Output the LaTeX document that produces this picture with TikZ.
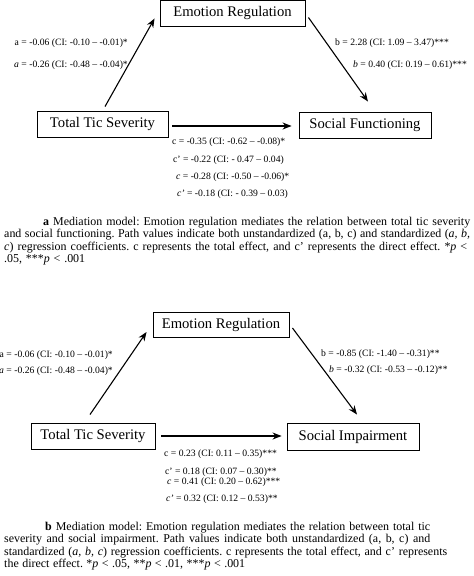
\documentclass[tikz,border=0pt]{standalone}
\usepackage{fontspec}
\setmainfont{Liberation Serif}
\usetikzlibrary{arrows.meta}
\begin{document}
\frenchspacing
\begin{tikzpicture}[x=1bp,y=-1bp,
 box/.style={draw,line width=0.9bp,font=\fontsize{14.7}{17}\selectfont,inner sep=0,minimum height=26bp},
 arr/.style={line width=1.1bp,-{Stealth[length=9bp,width=7bp]}},
 lab/.style={font=\fontsize{9.7}{11}\selectfont,inner sep=0,anchor=base west},
 labr/.style={lab,anchor=base east},
 captxt/.style={font=\fontsize{12}{13}\selectfont,inner sep=0,anchor=base west}]
\fill[white] (0,0) rectangle (474,576);
\useasboundingbox (0,0) rectangle (474,576);
% ---------- panel a ----------
\node[box,minimum width=145bp] (erA) at (232.5,13.5) {Emotion Regulation};
\node[box,minimum width=131bp] (ttsA) at (102.5,124) {Total Tic Severity};
\node[box,minimum width=132bp] (sfA) at (365,125) {Social Functioning};
\draw[arr] ([shift={(2.5,-4)}]ttsA.north) -- ([shift={(-5,5)}]erA.west);
\draw[arr] ([shift={(3,4)}]erA.east) -- ([shift={(3,-10)}]sfA.north);
\draw[arr] ([shift={(4,2)}]ttsA.east) -- ([shift={(-7,1)}]sfA.west);
\node[labr] (aA1) at (128,46) {a = -0.06 (CI: -0.10 – -0.01)*};
\node[labr] (aA2) at (128,68) {\textit{a} = -0.26 (CI: -0.48 – -0.04)*};
\node[lab] (bA1) at (335,46) {b = 2.28 (CI: 1.09 – 3.47)***};
\node[lab] (bA2) at (353,68) {\textit{b} = 0.40 (CI: 0.19 – 0.61)***};
\node[lab] (cA1) at (172,145) {c = -0.35 (CI: -0.62 – -0.08)*};
\node[lab] (cA2) at (173,163) {c’ = -0.22 (CI: - 0.47 – 0.04)};
\node[lab] (cA3) at (176,179) {\textit{c} = -0.28 (CI: -0.50 – -0.06)*};
\node[lab] (cA4) at (177,196) {\textit{c’} = -0.18 (CI: - 0.39 – 0.03)};
\node[captxt] (capA1) at (43,225) {\makebox[427bp][s]{\textbf{a}\ Mediation model: Emotion regulation mediates the relation between total tic severity}};
\node[captxt] (capA2) at (4,237.5) {\makebox[466bp][s]{and social functioning. Path values indicate both unstandardized (a, b, c) and standardized (\textit{a, b,}}};
\node[captxt] (capA3) at (4,250) {\makebox[463bp][s]{\textit{c}) regression coefficients. c represents the total effect, and c’ represents the direct effect. *\textit{p} <}};
\node[captxt] (capA4) at (4,262.5) {\makebox[81bp][s]{.05, ***\textit{p} < .001}};
% ---------- panel b ----------
\node[box,minimum width=136bp,minimum height=25bp] (erB) at (221,324.5) {Emotion Regulation};
\node[box,minimum width=124bp] (ttsB) at (93,436) {Total Tic Severity};
\node[box,minimum width=132bp,minimum height=27bp] (siB) at (353,436.5) {Social Impairment};
\draw[arr] ([shift={(-3,-8)}]ttsB.north) -- ([shift={(-6,7.5)}]erB.west);
\draw[arr] ([shift={(3,3.5)}]erB.east) -- ([shift={(4,-8)}]siB.north);
\draw[arr] ([shift={(6,0)}]ttsB.east) -- ([shift={(-5,-0.5)}]siB.west);
\node[labr] (aB1) at (113,357) {a = -0.06 (CI: -0.10 – -0.01)*};
\node[labr] (aB2) at (113,373) {\textit{a} = -0.26 (CI: -0.48 – -0.04)*};
\node[lab] (bB1) at (321,356) {b = -0.85 (CI: -1.40 – -0.31)**};
\node[lab] (bB2) at (329,372) {\textit{b} = -0.32 (CI: -0.53 – -0.12)**};
\node[lab] (cB1) at (164,456) {c = 0.23 (CI: 0.11 – 0.35)***};
\node[lab] (cB2) at (165,474) {c’ = 0.18 (CI: 0.07 – 0.30)**};
\node[lab] (cB3) at (167,484) {\textit{c} = 0.41 (CI: 0.20 – 0.62)***};
\node[lab] (cB4) at (166,501) {\textit{c’} = 0.32 (CI: 0.12 – 0.53)**};
\node[captxt] (capB1) at (45,530) {\makebox[385bp][s]{\textbf{b}\ Mediation model: Emotion regulation mediates the relation between total tic}};
\node[captxt] (capB2) at (4,542.5) {\makebox[426bp][s]{severity and social impairment. Path values indicate both unstandardized (a, b, c) and}};
\node[captxt] (capB3) at (4,555) {\makebox[443bp][s]{standardized (\textit{a, b, c}) regression coefficients. c represents the total effect, and c’ represents}};
\node[captxt] (capB4) at (4,567.5) {\makebox[241bp][s]{the direct effect. *\textit{p} < .05, **\textit{p} < .01, ***\textit{p} < .001}};
\end{tikzpicture}
\end{document}
